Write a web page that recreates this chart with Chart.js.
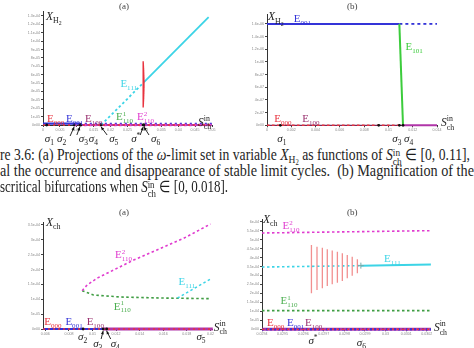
<!DOCTYPE html>
<html>
<head>
<meta charset="utf-8">
<script src="https://cdn.jsdelivr.net/npm/chart.js@4.4.1/dist/chart.umd.min.js"></script>
<style>
  html, body { margin: 0; padding: 0; background: #fff; }
  body { width: 474px; height: 348px; position: relative; overflow: hidden; }
  canvas { position: absolute; }
  .tag { position: absolute; font: 9px "Liberation Serif", serif; color: #444; }
  .cap { position: absolute; left: 0; white-space: nowrap; font: 16px/16px "Liberation Serif", serif; color: #1e1e1e; transform-origin: 0 50%; }
  .cap sub { font-size: 0.7em; vertical-align: -0.25em; line-height: 0; }
  .ss { display: inline-block; vertical-align: -0.45em; font-size: 0.68em; line-height: 0.85em; }
  .ss span { display: block; }
</style>
</head>
<body>
<canvas id="h2Wide" width="237" height="146" style="left:0;top:0"></canvas>
<canvas id="h2Zoom" width="237" height="146" style="left:237px;top:0"></canvas>
<canvas id="chWide" width="237" height="148" style="left:0;top:200px"></canvas>
<canvas id="chZoom" width="237" height="148" style="left:237px;top:200px"></canvas>

<div class="tag" style="left:119px;top:1px">(a)</div>
<div class="tag" style="left:347px;top:1px">(b)</div>
<div class="tag" style="left:119px;top:207px">(a)</div>
<div class="tag" style="left:347px;top:207px">(b)</div>

<div class="cap" data-w="470" style="top:147px">re 3.6: (a) Projections of the <i>ω</i>-limit set in variable <i>X</i><sub>H<sub>2</sub></sub> as functions of <i>S</i><span class="ss"><span>in</span><span>ch</span></span> ∈ [0, 0.11],</div>
<div class="cap" data-w="474" style="top:163px">al the occurrence and disappearance of stable limit cycles.&nbsp; (b) Magnification of the</div>
<div class="cap" data-w="228" style="top:179px">scritical bifurcations when <i>S</i><span class="ss"><span>in</span><span>ch</span></span> ∈ [0, 0.018].</div>

<script>
// bifurcation values of S_ch^in
const sigmaNames = ['1', '2', '3', '4', '5', '*', '6'];
const sigmaValues = [0.0011, 0.0092, 0.0109, 0.0112, 0.0172, 0.02964, 0.02988];

// S_ch^in where the stable limit cycles were sampled
const cycleS = [0.02964, 0.029667, 0.029693, 0.029717, 0.029741, 0.029766, 0.02979, 0.029814, 0.029838, 0.029863];

// X_H2, full range
const h2E001 = 1.6e-6;
const h2E111Unstable = [[0.0172, 0], [0.02988, 5.1e-5]];
const h2E111Stable = [[0.02988, 5.1e-5], [0.0490, 1.286e-4]];
const h2CycleLow = [2.1e-5, 2.3e-5, 2.5e-5, 2.7e-5, 2.9e-5, 3.1e-5, 3.4e-5, 3.7e-5, 4.0e-5, 4.4e-5];
const h2CycleHigh = [7.6e-5, 7.4e-5, 7.2e-5, 7.0e-5, 6.8e-5, 6.6e-5, 6.3e-5, 6.0e-5, 5.7e-5, 5.4e-5];

// X_H2, magnified near the transcritical points
const h2E101 = [[0.0109, 1.6e-6], [0.0112, 0]];

// X_ch near the saddle-node
const chE110Upper = [[0.00912, 1.29e-4], [0.00954, 1.48e-4], [0.01039, 1.71e-4], [0.01151, 1.93e-4],
  [0.01349, 2.32e-4], [0.01547, 2.66e-4], [0.01773, 3.05e-4], [0.0200, 3.53e-4]];
const chE110Lower = [[0.00912, 1.29e-4], [0.01007, 1.144e-4], [0.01236, 1.077e-4], [0.01575, 1.043e-4], [0.0200, 1.02e-4]];
const chE111Near = [[0.0172, 1.04e-4], [0.0200, 1.68e-4]];

// X_ch around the Hopf point
const chE110UpperHopf = [[0.0294, 5.37e-4], [0.03022, 5.5e-4]];
const chE110LowerHopf = [[0.0294, 1.04e-4], [0.03022, 1.04e-4]];
const chE111Unstable = [[0.0294, 3.47e-4], [0.02988, 3.55e-4]];
const chE111Stable = [[0.02988, 3.55e-4], [0.03022, 3.62e-4]];
const chCycleHigh = [4.70e-4, 4.60e-4, 4.55e-4, 4.46e-4, 4.40e-4, 4.33e-4, 4.24e-4, 4.14e-4, 4.05e-4, 3.90e-4];
const chCycleLow = [2.01e-4, 2.19e-4, 2.29e-4, 2.41e-4, 2.51e-4, 2.60e-4, 2.69e-4, 2.84e-4, 2.99e-4, 3.12e-4];

const C = {
  e000: '#e8323e', e001: '#3434d8', e100: '#b035a8', e100Text: '#9a3270', e101: '#3ccc3c',
  e110a: '#3f9d43', e110aText: '#4caf50', e110b: '#e03ccf', e111: '#3cd4e6', cycle: '#e8323e', cycleLight: '#f29090'
};
const SERIF = '"Liberation Serif", serif';

function line(pts, color, dash, width) {
  return {
    data: pts.map(([x, y]) => ({ x, y })), showLine: true, borderColor: color,
    borderWidth: width || 1.6, borderDash: dash || [], pointRadius: 0, clip: false
  };
}
function cycles(s, lo, hi, color, width) {
  const pts = s.flatMap((v, i) => [{ x: v, y: lo[i] }, { x: v, y: hi[i] }, { x: v, y: null }]);
  return { data: pts, showLine: true, spanGaps: false, borderColor: color, borderWidth: width, pointRadius: 0, clip: false };
}
function dots(list) {
  return { data: list.map(i => ({ x: sigmaValues[i], y: 0 })), pointRadius: 1.4, backgroundColor: '#111', borderWidth: 0, clip: false };
}

// text made of base, sub and superscript parts
function drawParts(ctx, x, y, parts, color, size) {
  ctx.fillStyle = color;
  let cx = x, prevX = x;
  for (const p of parts) {
    ctx.font = `${p.it ? 'italic ' : ''}${size * (p.k || 1)}px ${SERIF}`;
    const w = ctx.measureText(p.t).width;
    const px = p.stack ? prevX : cx;
    ctx.fillText(p.t, px, y + (p.dy || 0) * size);
    if (p.stack) cx = Math.max(cx, px + w); else { prevX = px; cx = px + w; }
  }
}
const E = (sub, sup) => [{ t: 'E' }, { t: sub, k: 0.64, dy: 0.25 }].concat(sup ? [{ t: sup, k: 0.64, dy: -0.4, stack: true }] : []);
const sigmaParts = s => [{ t: 'σ', it: true }, { t: s, k: 0.68, dy: s === '*' ? -0.35 : 0.28 }];
const XH2 = [{ t: 'X', it: true }, { t: 'H', k: 0.68, dy: 0.28 }, { t: '2', k: 0.5, dy: 0.45 }];
const Xch = [{ t: 'X', it: true }, { t: 'ch', k: 0.68, dy: 0.28 }];
const Sin = [{ t: 'S', it: true }, { t: 'ch', k: 0.68, dy: 0.3 }, { t: 'in', k: 0.68, dy: -0.42, stack: true }];

function arrow(ctx, x0, y0, x1, y1) {
  ctx.strokeStyle = '#111'; ctx.fillStyle = '#111'; ctx.lineWidth = 0.9;
  ctx.beginPath(); ctx.moveTo(x0, y0); ctx.lineTo(x1, y1); ctx.stroke();
  const a = Math.atan2(y1 - y0, x1 - x0);
  ctx.beginPath();
  ctx.moveTo(x1, y1);
  ctx.lineTo(x1 - 3.5 * Math.cos(a - 0.45), y1 - 3.5 * Math.sin(a - 0.45));
  ctx.lineTo(x1 - 3.5 * Math.cos(a + 0.45), y1 - 3.5 * Math.sin(a + 0.45));
  ctx.fill();
}

const notes = {
  id: 'notes',
  afterDatasetsDraw(chart, args, o) {
    const { ctx, chartArea: a, scales: { x, y } } = chart;
    ctx.save();
    ctx.textBaseline = 'alphabetic';
    drawParts(ctx, a.left + o.yName[0], a.top + o.yName[1], o.yParts, '#222', 11.5);
    drawParts(ctx, a.right + o.xName[0], y.getPixelForValue(0) + o.xName[1], Sin, '#222', 11.5);
    for (const t of o.terms) {
      drawParts(ctx, x.getPixelForValue(t.at[0]) + (t.off ? t.off[0] : 0),
        y.getPixelForValue(t.at[1]) + (t.off ? t.off[1] : 0), t.parts, t.color, t.size || 11);
    }
    for (const s of o.sigmas) {
      const px = x.getPixelForValue(sigmaValues[s.i]), py = y.getPixelForValue(0);
      drawParts(ctx, px + s.off[0], py + s.off[1], sigmaParts(sigmaNames[s.i]), '#222', 11);
      if (s.arrow) arrow(ctx, px + s.arrow[0], py + s.arrow[1], px, py + 2);
    }
    ctx.restore();
  }
};

function sci(v) {
  if (Math.abs(v) < 1e-12) return '0e00';
  const [m, e] = v.toExponential().split('e');
  const n = +e;
  return String(+(+m).toFixed(2)) + 'e' + (n < 0 ? '-' : '') + String(Math.abs(n)).padStart(2, '0');
}
const plain = v => String(+v.toFixed(6));

function axis(min, max, step, fmt, fit) {
  return {
    type: 'linear', min, max,
    afterFit: fit,
    border: { color: '#333', width: 1 },
    grid: { drawOnChartArea: false, tickLength: 2, color: '#444' },
    ticks: { stepSize: step, includeBounds: false, autoSkip: false, maxRotation: 0, padding: 1,
      color: '#888', font: { size: 3.6, family: 'Liberation Sans' }, callback: fmt }
  };
}

function panel(id, o) {
  return new Chart(document.getElementById(id), {
    type: 'scatter',
    data: { datasets: o.datasets },
    options: {
      responsive: false, animation: false, devicePixelRatio: 1,
      layout: { padding: o.pad },
      plugins: { legend: { display: false }, tooltip: { enabled: false }, notes: o.notes },
      scales: {
        x: axis(o.x[0], o.x[1], o.x[2], plain, s => { s.height = 9; }),
        y: axis(o.y[0], o.y[1], o.y[2], sci, s => { s.width = o.yw; })
      }
    },
    plugins: [notes]
  });
}

// (a) X_H2 over the whole range
panel('h2Wide', {
  x: [0, 0.05, 0.005], y: [0, 1.35e-4, 1e-5], yw: 43,
  pad: { left: 0, right: 25, top: 11.8, bottom: 12 },
  datasets: [
    dots([0, 1, 2, 3, 4, 5, 6]),
    cycles(cycleS, h2CycleLow, h2CycleHigh, C.cycle, 1.4),
    line(h2E111Stable, C.e111, [], 1.8),
    line(h2E111Unstable, C.e111, [2.5, 2.5], 1.8),
    line([[0, 0], [0.05, 0]], C.e000, [2, 3], 1.5),
    line([[sigmaValues[1], 0], [0.05, 0]], C.e110b, [2.5, 2.5], 2.6),
    line([[sigmaValues[1], 0], [0.05, 0]], C.e110a, [2.5, 2.5], 1.6),
    line([[0, h2E001], [sigmaValues[2], h2E001]], C.e001, [], 2.4),
    line([[sigmaValues[2], h2E001], [0.05, h2E001]], C.e001, [2, 3], 1.6),
    line([[sigmaValues[3], 0], [0.05, 0]], C.e100, [], 1.8)
  ],
  notes: {
    yParts: XH2, yName: [3, 8], xName: [-14, 1],
    terms: [
      { parts: E('000'), at: [0.0012, 0], off: [0, -3], color: C.e000 },
      { parts: E('001'), at: [0.0068, 0], off: [0, -3], color: C.e001 },
      { parts: E('100'), at: [0.0124, 0], off: [0, -3], color: C.e100Text },
      { parts: E('110', '1'), at: [0.0216, 0], off: [0, -5], color: C.e110aText },
      { parts: E('110', '2'), at: [0.0278, 0], off: [0, -5], color: C.e110b },
      { parts: E('111'), at: [0.0229, 4.53e-5], color: C.e111 }
    ],
    sigmas: [
      { i: 0, off: [-2, 17] },
      { i: 1, off: [-17, 17], arrow: [-4, 11] },
      { i: 2, off: [-1, 17], arrow: [-3, 10] },
      { i: 3, off: [8, 17] },
      { i: 4, off: [8, 17], arrow: [6, 10] },
      { i: 5, off: [-12, 17], arrow: [-3, 10] },
      { i: 6, off: [7, 17], arrow: [5, 10] }
    ]
  }
});

// (b) X_H2 magnified
panel('h2Zoom', {
  x: [0, 0.014, 0.002], y: [0, 1.75e-6, 2e-7], yw: 30,
  pad: { left: 0, right: 37, top: 14.4, bottom: 11.7 },
  datasets: [
    dots([0, 1, 2, 3]),
    line(h2E101, C.e101, [], 2),
    line([[0, h2E001], [sigmaValues[2], h2E001]], C.e001, [], 2),
    line([[sigmaValues[2], h2E001], [0.014, h2E001]], C.e001, [3, 3], 1.8),
    line([[0, 0], [sigmaValues[3], 0]], C.e000, [2.5, 2.5], 1.5),
    line([[0, 0], [sigmaValues[3], 0]], '#7a2a5a', [], 1.2),
    line([[sigmaValues[3], 0], [0.014, 0]], C.e100, [], 2)
  ],
  notes: {
    yParts: XH2, yName: [1, 6], xName: [4, 1],
    terms: [
      { parts: E('001'), at: [0.0022, h2E001], off: [0, -2], color: C.e001 },
      { parts: E('101'), at: [0.0114, 1.19e-6], color: C.e101 },
      { parts: E('000'), at: [0.0006, 0], off: [0, -3], color: C.e000 },
      { parts: E('100'), at: [0.0029, 0], off: [0, -3], color: C.e100Text }
    ],
    sigmas: [
      { i: 0, off: [-3, 17] },
      { i: 2, off: [-7, 17] },
      { i: 3, off: [1, 17] }
    ]
  }
});

// (a) X_ch near the saddle-node
panel('chWide', {
  x: [0.0058, 0.0202, 0.002], y: [0, 3.6e-4, 5e-5], yw: 43,
  pad: { left: 0, right: 24.2, top: 22, bottom: 10 },
  datasets: [
    dots([1, 2, 3]),
    line(chE111Near, C.e111, [2.5, 2.5], 1.6),
    line(chE110Upper, C.e110b, [2.5, 2.5], 1.6),
    line(chE110Lower, C.e110a, [2.5, 2.5], 1.6),
    line([[0.0058, 0], [0.0202, 0]], C.e000, [2, 3], 1.4),
    line([[0.0058, 0], [sigmaValues[2], 0]], C.e001, [], 2.2),
    line([[sigmaValues[2], 0], [0.0202, 0]], C.e100, [], 3)
  ],
  notes: {
    yParts: Xch, yName: [3, 4], xName: [1, 2],
    terms: [
      { parts: E('000'), at: [0.0059, 0], off: [0, -4], color: C.e000 },
      { parts: E('001'), at: [0.0077, 0], off: [0, -4], color: C.e001 },
      { parts: E('100'), at: [0.0095, 0], off: [0, -4], color: C.e100Text },
      { parts: E('110', '2'), at: [0.0119, 2.39e-4], color: C.e110b },
      { parts: E('110', '1'), at: [0.0118, 0.65e-4], color: C.e110aText },
      { parts: E('111'), at: [0.0173, 1.48e-4], color: C.e111 }
    ],
    sigmas: [
      { i: 1, off: [-5, 11] },
      { i: 2, off: [-10, 18], arrow: [-2, 10] },
      { i: 3, off: [4, 18], arrow: [4, 10] },
      { i: 4, off: [19, 11] }
    ]
  }
});

// (b) X_ch around the Hopf point
panel('chZoom', {
  x: [0.0294, 0.03022, 0.0001], y: [0, 6.1e-4, 5e-5], yw: 25,
  pad: { left: 0, right: 43.1, top: 19.9, bottom: 9.7 },
  datasets: [
    { data: [{ x: sigmaValues[6], y: 3.55e-4 }], pointStyle: 'cross', pointRadius: 3, borderColor: '#7aa', borderWidth: 1, clip: false },
    cycles(cycleS, chCycleLow, chCycleHigh, C.cycleLight, 1.3),
    line(chE111Stable, C.e111, [], 2),
    line(chE111Unstable, C.e111, [2.5, 2.5], 1.6),
    line(chE110UpperHopf, C.e110b, [2.5, 2.5], 1.6),
    line(chE110LowerHopf, C.e110a, [2.5, 2.5], 1.6),
    line([[0.0294, 0], [0.03022, 0]], C.e000, [2, 3], 1.4),
    line([[0.0294, 0], [0.03022, 0]], C.e001, [2, 2], 2.2),
    line([[0.0294, 0], [0.03022, 0]], C.e100, [], 3)
  ],
  notes: {
    yParts: Xch, yName: [1, 3], xName: [3, 2],
    terms: [
      { parts: E('110', '2'), at: [0.02950, 5.59e-4], color: C.e110b },
      { parts: E('111'), at: [0.029992, 3.75e-4], color: C.e111 },
      { parts: E('110', '1'), at: [0.02949, 1.41e-4], color: C.e110aText },
      { parts: E('000'), at: [0.029424, 0], off: [0, -3], color: C.e000 },
      { parts: E('001'), at: [0.029521, 0], off: [0, -3], color: C.e001 },
      { parts: E('100'), at: [0.029609, 0], off: [0, -3], color: C.e100Text }
    ],
    sigmas: [
      { i: 5, off: [-3, 15] },
      { i: 6, off: [-4, 17] }
    ]
  }
});

// squeeze caption lines to their column width
document.querySelectorAll('.cap').forEach(el => {
  const w = el.getBoundingClientRect().width;
  el.style.transform = `scaleX(${(+el.dataset.w / w).toFixed(4)})`;
});
</script>
</body>
</html>
